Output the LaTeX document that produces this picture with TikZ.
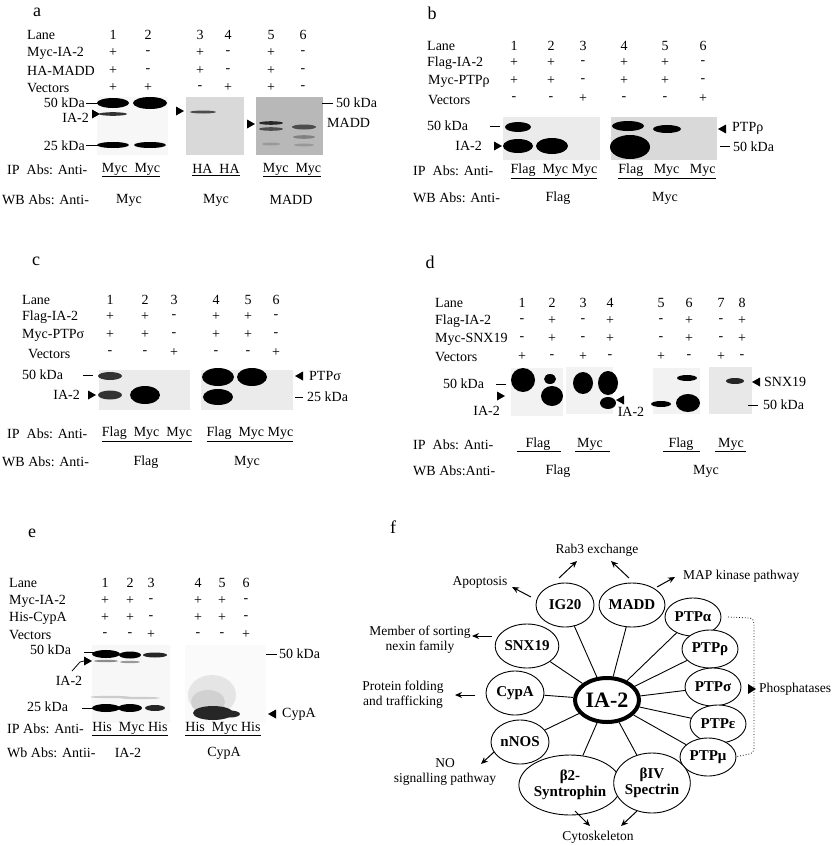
\documentclass[tikz,border=0pt]{standalone}
\usepackage{fontspec}
\setmainfont{Liberation Serif}
\usetikzlibrary{shapes.geometric,arrows.meta}
\newcommand\trR[2]{\fill (#1-8,#2-4.5) -- (#1,#2) -- (#1-8,#2+4.5) -- cycle;}
\newcommand\trL[2]{\fill (#1+8,#2-4.5) -- (#1,#2) -- (#1+8,#2+4.5) -- cycle;}
\begin{document}
\begin{tikzpicture}[x=1pt,y=-1pt,
  every node/.style={font=\fontsize{14}{15}\selectfont, inner sep=0pt},
  lw/.style={anchor=west},
  plab/.style={font=\fontsize{18}{19}\selectfont},
  blotw/.style={fill=white!94!gray},
  band/.style={fill=black},
  ul/.style={line width=0.6pt},
  prot/.style={ellipse, draw, line width=0.9pt, font=\fontsize{15}{16}\selectfont\bfseries, minimum width=58pt, minimum height=44pt, inner sep=0pt, fill=white},
  ptp/.style={prot, minimum width=56pt, minimum height=38pt},
  fl/.style={font=\fontsize{13.5}{15}\selectfont, align=center},
  arr/.style={-{Stealth[length=7pt,width=6pt]}, line width=1pt}
]
\useasboundingbox (0,0) rectangle (831,846);
\fill[white] (0,0) rectangle (831,846);
%================ a
\node[plab] at (37,12) {a};
\node[lw] at (27,35) {Lane};
\node[lw] at (27,53) {Myc-IA-2};
\node[lw] at (27,71) {HA-MADD};
\node[lw] at (27,88) {Vectors};
\foreach \x/\a/\b/\c/\d in {113/1/+/+/+,148/2/-/-/+,200/3/+/+/-,228/4/-/-/+,271/5/+/+/+,303/6/-/-/-}{
  \node at (\x,35) {\a}; \node at (\x,53) {\b}; \node at (\x,71) {\c}; \node at (\x,88) {\d};}
\fill[blotw] (97,97) rectangle (168,155);
\fill[band] (113,103) ellipse (16 and 5); \fill[band] (150,103) ellipse (17 and 6);
\fill[black!80] (113,114) ellipse (14 and 1.8);
\fill[band] (113,145) ellipse (16 and 3); \fill[band] (150,145) ellipse (16 and 3);
\draw[line width=1pt] (86,103) -- (100,103); \node[anchor=east] at (85,103) {50 kDa};
\node[anchor=east] at (89,118) {IA-2}; \trR{100}{114}
\draw[line width=1pt] (86,145) -- (100,145); \node[anchor=east] at (85,146) {25 kDa};
\fill[black!15] (186,97) rectangle (244,155);
\fill[black!70] (203,112) ellipse (13 and 1.5);
\trR{184}{111}
\fill[black!28] (256,97) rectangle (323,155);
\fill[black!85] (271,123) ellipse (12 and 1.8);
\fill[black!70] (271,129) ellipse (12 and 1.8); \fill[black!70] (304,127) ellipse (12 and 2.5);
\fill[black!50] (304,137) ellipse (11 and 1.8); \fill[black!40] (304,145) ellipse (10 and 1.5);
\fill[black!40] (271,144) ellipse (9 and 1.5);
\trR{255}{124}
\draw[line width=1pt] (322,103) -- (333,103); \node[lw] at (336,103) {50 kDa};
\node[lw] at (327,123) {MADD};
\node[lw] at (7,170) {IP\ \ Abs: Anti-};
\node at (131,170) {\underline{Myc\ \ Myc}};
\node at (216,170) {\underline{HA\ \ HA}};
\node at (292,170) {\underline{Myc\ \ Myc}};
\node[lw] at (2,200) {WB Abs: Anti-};
\node at (129,200) {Myc}; \node at (216,200) {Myc}; \node at (291,200) {MADD};
%================ b
\node[plab] at (432,13) {b};
\node[lw] at (427,46) {Lane};
\node[lw] at (427,63) {Flag-IA-2};
\node[lw] at (428,81) {Myc-PTPρ};
\node[lw] at (428,100) {Vectors};
\foreach \x/\a/\b/\c/\d in {514/1/+/+/-,551/2/+/+/-,583/3/-/-/+,624/4/+/+/-,665/5/+/+/-,703/6/-/-/+}{
  \node at (\x,46) {\a}; \node at (\x,63) {\b}; \node at (\x,81) {\c}; \node at (\x,99) {\d};}
\fill[black!8] (503,117) rectangle (600,160);
\fill[band] (518,127) ellipse (13 and 5); \fill[band] (518,146) ellipse (15 and 7); \fill[band] (552,146) ellipse (16 and 8);
\node[lw] at (427,126) {50 kDa}; \draw[line width=1pt] (490,126) -- (500,126);
\node[anchor=east] at (482,146) {IA-2}; \trR{502}{146}
\fill[black!15] (611,117) rectangle (717,160);
\fill[band] (628,126) ellipse (16 and 5); \fill[band] (630,147) ellipse (20 and 12); \fill[band] (667,129) ellipse (14 and 4);
\trL{718}{129} \node[lw] at (732,128) {PTPρ};
\draw[line width=1pt] (720,146) -- (730,146); \node[lw] at (733,147) {50 kDa};
\node[lw] at (413,171) {IP\ \ Abs: Anti-};
\node at (554,171) {\underline{Flag\ \ Myc Myc}};
\node at (667,171) {\underline{Flag\ \ \ Myc\ \ \ Myc}};
\node[lw] at (413,198) {WB Abs: Anti-};
\node at (558,198) {Flag}; \node at (665,198) {Myc};
%================ c
\node[plab] at (36,261) {c};
\node[lw] at (22,300) {Lane};
\node[lw] at (22,317) {Flag-IA-2};
\node[lw] at (22,335) {Myc-PTPσ};
\node[lw] at (28,354) {Vectors};
\foreach \x/\a/\b/\c/\d in {110/1/+/+/-,145/2/+/+/-,174/3/-/-/+,216/4/+/+/-,248/5/+/+/-,276/6/-/-/+}{
  \node at (\x,300) {\a}; \node at (\x,317) {\b}; \node at (\x,335) {\c}; \node at (\x,353) {\d};}
\fill[black!8] (99,370) rectangle (190,410);
\fill[black!80] (110,376) ellipse (12 and 4); \fill[black!80] (110,395) ellipse (12 and 4.5); \fill[band] (145,395) ellipse (15 and 9);
\node[lw] at (22,375) {50 kDa}; \draw[line width=1pt] (83,375) -- (93,375);
\node[anchor=east] at (80,395) {IA-2}; \trR{96}{395}
\fill[black!8] (201,370) rectangle (293,410);
\fill[band] (218,377) ellipse (16 and 9); \fill[band] (218,397) ellipse (15 and 8); \fill[band] (252,377) ellipse (15 and 9);
\trL{295}{376} \node[lw] at (309,376) {PTPσ};
\draw[line width=1pt] (295,397) -- (303,397); \node[lw] at (307,397) {25 kDa};
\node[lw] at (7,434) {IP\ \ Abs: Anti-};
\node at (147,434) {\underline{Flag\ \ Myc\ \ Myc}};
\node at (250,434) {\underline{Flag\ \ Myc Myc}};
\node[lw] at (2,462) {WB Abs: Anti-};
\node at (146,462) {Flag}; \node at (247,462) {Myc};
%================ d
\node[plab] at (430,262) {d};
\node[lw] at (435,303) {Lane};
\node[lw] at (435,321) {Flag-IA-2};
\node[lw] at (435,339) {Myc-SNX19};
\node[lw] at (435,357) {Vectors};
\foreach \x/\a/\b/\c/\d in {522/1/-/-/+,552/2/+/+/-,583/3/-/-/+,610/4/+/+/-,661/5/-/-/+,689/6/+/+/-,721/7/-/-/+,742/8/+/+/-}{
  \node at (\x,303) {\a}; \node at (\x,321) {\b}; \node at (\x,339) {\c}; \node at (\x,357) {\d};}
\fill[black!5] (511,368) rectangle (563,416);
\fill[band] (523,380) ellipse (12 and 12); \fill[band] (550,379) ellipse (6 and 5); \fill[band] (552,396) ellipse (11 and 10);
\fill[black!5] (566,367) rectangle (613,414);
\fill[band] (583,383) ellipse (10 and 11); \fill[band] (608,383) ellipse (10 and 12); \fill[band] (608,403) ellipse (8 and 6);
\node[lw] at (443,384) {50 kDa}; \draw[line width=1pt] (496,384) -- (506,384);
\trR{505}{396} \node[anchor=east] at (500,411) {IA-2};
\trL{616}{400} \node at (631,412) {IA-2};
\fill[black!5] (653,368) rectangle (700,414);
\fill[band] (661,404) ellipse (10 and 3); \fill[band] (687,378) ellipse (10 and 3); \fill[band] (688,403) ellipse (12 and 9);
\fill[black!9] (709,367) rectangle (752,414);
\fill[black!85] (735,381) ellipse (9 and 3);
\trL{752}{382} \node[lw] at (764,382) {SNX19};
\draw[line width=1pt] (748,405) -- (758,405); \node[lw] at (763,405) {50 kDa};
\node[lw] at (413,445) {IP\ \ Abs: Anti-};
\node at (538,444) {Flag}; \draw[ul] (517,451) -- (561,451);
\node at (590,444) {Myc}; \draw[ul] (575,451) -- (610,451);
\node at (681,444) {Flag}; \draw[ul] (663,451) -- (700,451);
\node at (731,444) {Myc}; \draw[ul] (715,451) -- (746,451);
\node[lw] at (413,471) {WB Abs:Anti-};
\node at (558,471) {Flag}; \node at (706,471) {Myc};
%================ e
\node[plab] at (32,533) {e};
\node[lw] at (9,583) {Lane};
\node[lw] at (9,601) {Myc-IA-2};
\node[lw] at (9,618) {His-CypA};
\node[lw] at (9,635) {Vectors};
\foreach \x/\a/\b/\c/\d in {105/1/+/+/-,130/2/+/+/-,151/3/-/-/+,198/4/+/+/-,222/5/+/+/-,246/6/-/-/+}{
  \node at (\x,583) {\a}; \node at (\x,601) {\b}; \node at (\x,618) {\c}; \node at (\x,635) {\d};}
\fill[black!3] (92,645) rectangle (170,723);
\fill[band] (106,654) ellipse (14 and 4); \fill[band] (130,655) ellipse (11 and 3.5); \fill[black!85] (155,655) ellipse (12 and 2.5);
\fill[black!45] (106,661) ellipse (12 and 1.2); \fill[black!40] (130,662) ellipse (10 and 1.2);
\fill[black!20] (110,697) ellipse (20 and 1.2); \fill[black!20] (140,698) ellipse (20 and 1.2);
\fill[band] (106,708) ellipse (14 and 4); \fill[band] (130,708) ellipse (12 and 4); \fill[black!85] (155,708) ellipse (10 and 3);
\node[lw] at (30,650) {50 kDa}; \draw[line width=1pt] (84,652) -- (94,652);
\node at (69,681) {IA-2};
\draw[line width=0.8pt] (72,671) -- (80,662) -- (84,661);
\trR{92}{661}
\node[lw] at (27,707) {25 kDa}; \draw[line width=1pt] (82,708) -- (94,708);
\fill[black!2] (185,645) rectangle (266,723);
\fill[black!10] (212,695) ellipse (24 and 20);
\fill[black!18] (208,702) ellipse (17 and 12);
\fill[black!85] (213,713) ellipse (20 and 7); \fill[black!85] (230,714) ellipse (10 and 3.5);
\draw[line width=1pt] (266,654) -- (277,654); \node[lw] at (279,654) {50 kDa};
\trL{268}{714} \node[lw] at (282,714) {CypA};
\node[lw] at (7,729) {IP Abs: Anti-};
\node at (130,729) {\underline{His\ \ Myc His}};
\node at (223,729) {\underline{His\ \ Myc His}};
\node[lw] at (7,753) {Wb Abs: Antii-};
\node at (128,753) {IA-2}; \node at (224,753) {CypA};
%================ f
\node[plab] at (393,527) {f};
\node[prot] (ig) at (565,605) {IG20};
\node[prot, minimum width=60pt] (madd) at (632,605) {MADD};
\node[ptp] (pa) at (693,617) {PTPα};
\node[ptp] (pr) at (710,649) {PTPρ};
\node[ptp] (ps) at (713,687) {PTPσ};
\node[ptp] (pe) at (718,724) {PTPε};
\node[ptp] (pm) at (708,757) {PTPμ};
\node[prot] (snx) at (527,646) {SNX19};
\node[prot] (cyp) at (515,693) {CypA};
\node[prot] (nnos) at (520,742) {nNOS};
\node[prot, minimum width=76pt, minimum height=60pt, align=center] (b2) at (570,785) {β2-\\Syntrophin};
\node[prot, minimum width=76pt, minimum height=60pt, align=center] (b4) at (652,783) {βIV\\Spectrin};
\node[ellipse, draw, line width=4pt, fill=white, minimum width=64pt, minimum height=44pt, inner sep=0pt, font=\fontsize{22}{24}\selectfont\bfseries] (ia) at (607,700) {IA-2};
\foreach \n in {ig,madd,pa,pr,ps,pe,pm,snx,cyp,nnos,b2,b4} \draw[line width=0.9pt] (ia) -- (\n);
\node[fl] (rab) at (597,550) {Rab3 exchange};
\node[fl] (apo) at (480,582) {Apoptosis};
\node[fl, anchor=west] (map) at (683,576) {MAP kinase pathway};
\node[fl] (snxf) at (420,640) {Member of sorting\\nexin family};
\node[fl] (pff) at (403,695) {Protein folding\\and trafficking};
\node[fl] (no) at (445,772) {NO\\signalling pathway};
\node[fl] (cyto) at (598,837) {Cytoskeleton};
\node[fl, anchor=west] (pho) at (759,689) {Phosphatases};
\draw[arr] (559,578) -- (577,561);
\draw[arr] (629,578) -- (611,561);
\draw[arr] (531,597) -- (512,587);
\draw[arr] (657,587) -- (675,577);
\draw[arr] (492,636) -- (472,636);
\draw[arr] (475,695) -- (455,695);
\draw[arr] (494,752) -- (481,764);
\draw[arr] (575,811) -- (590,826);
\draw[arr] (637,811) -- (621,826);
\draw[dotted, line width=0.8pt] (728,617) -- (750,618) to[out=0,in=90] (754,625) -- (754,749) to[out=-90,in=0] (749,754) -- (735,757);
\fill (748,684) -- (756,689) -- (748,694) -- cycle;
\end{tikzpicture}
\end{document}
